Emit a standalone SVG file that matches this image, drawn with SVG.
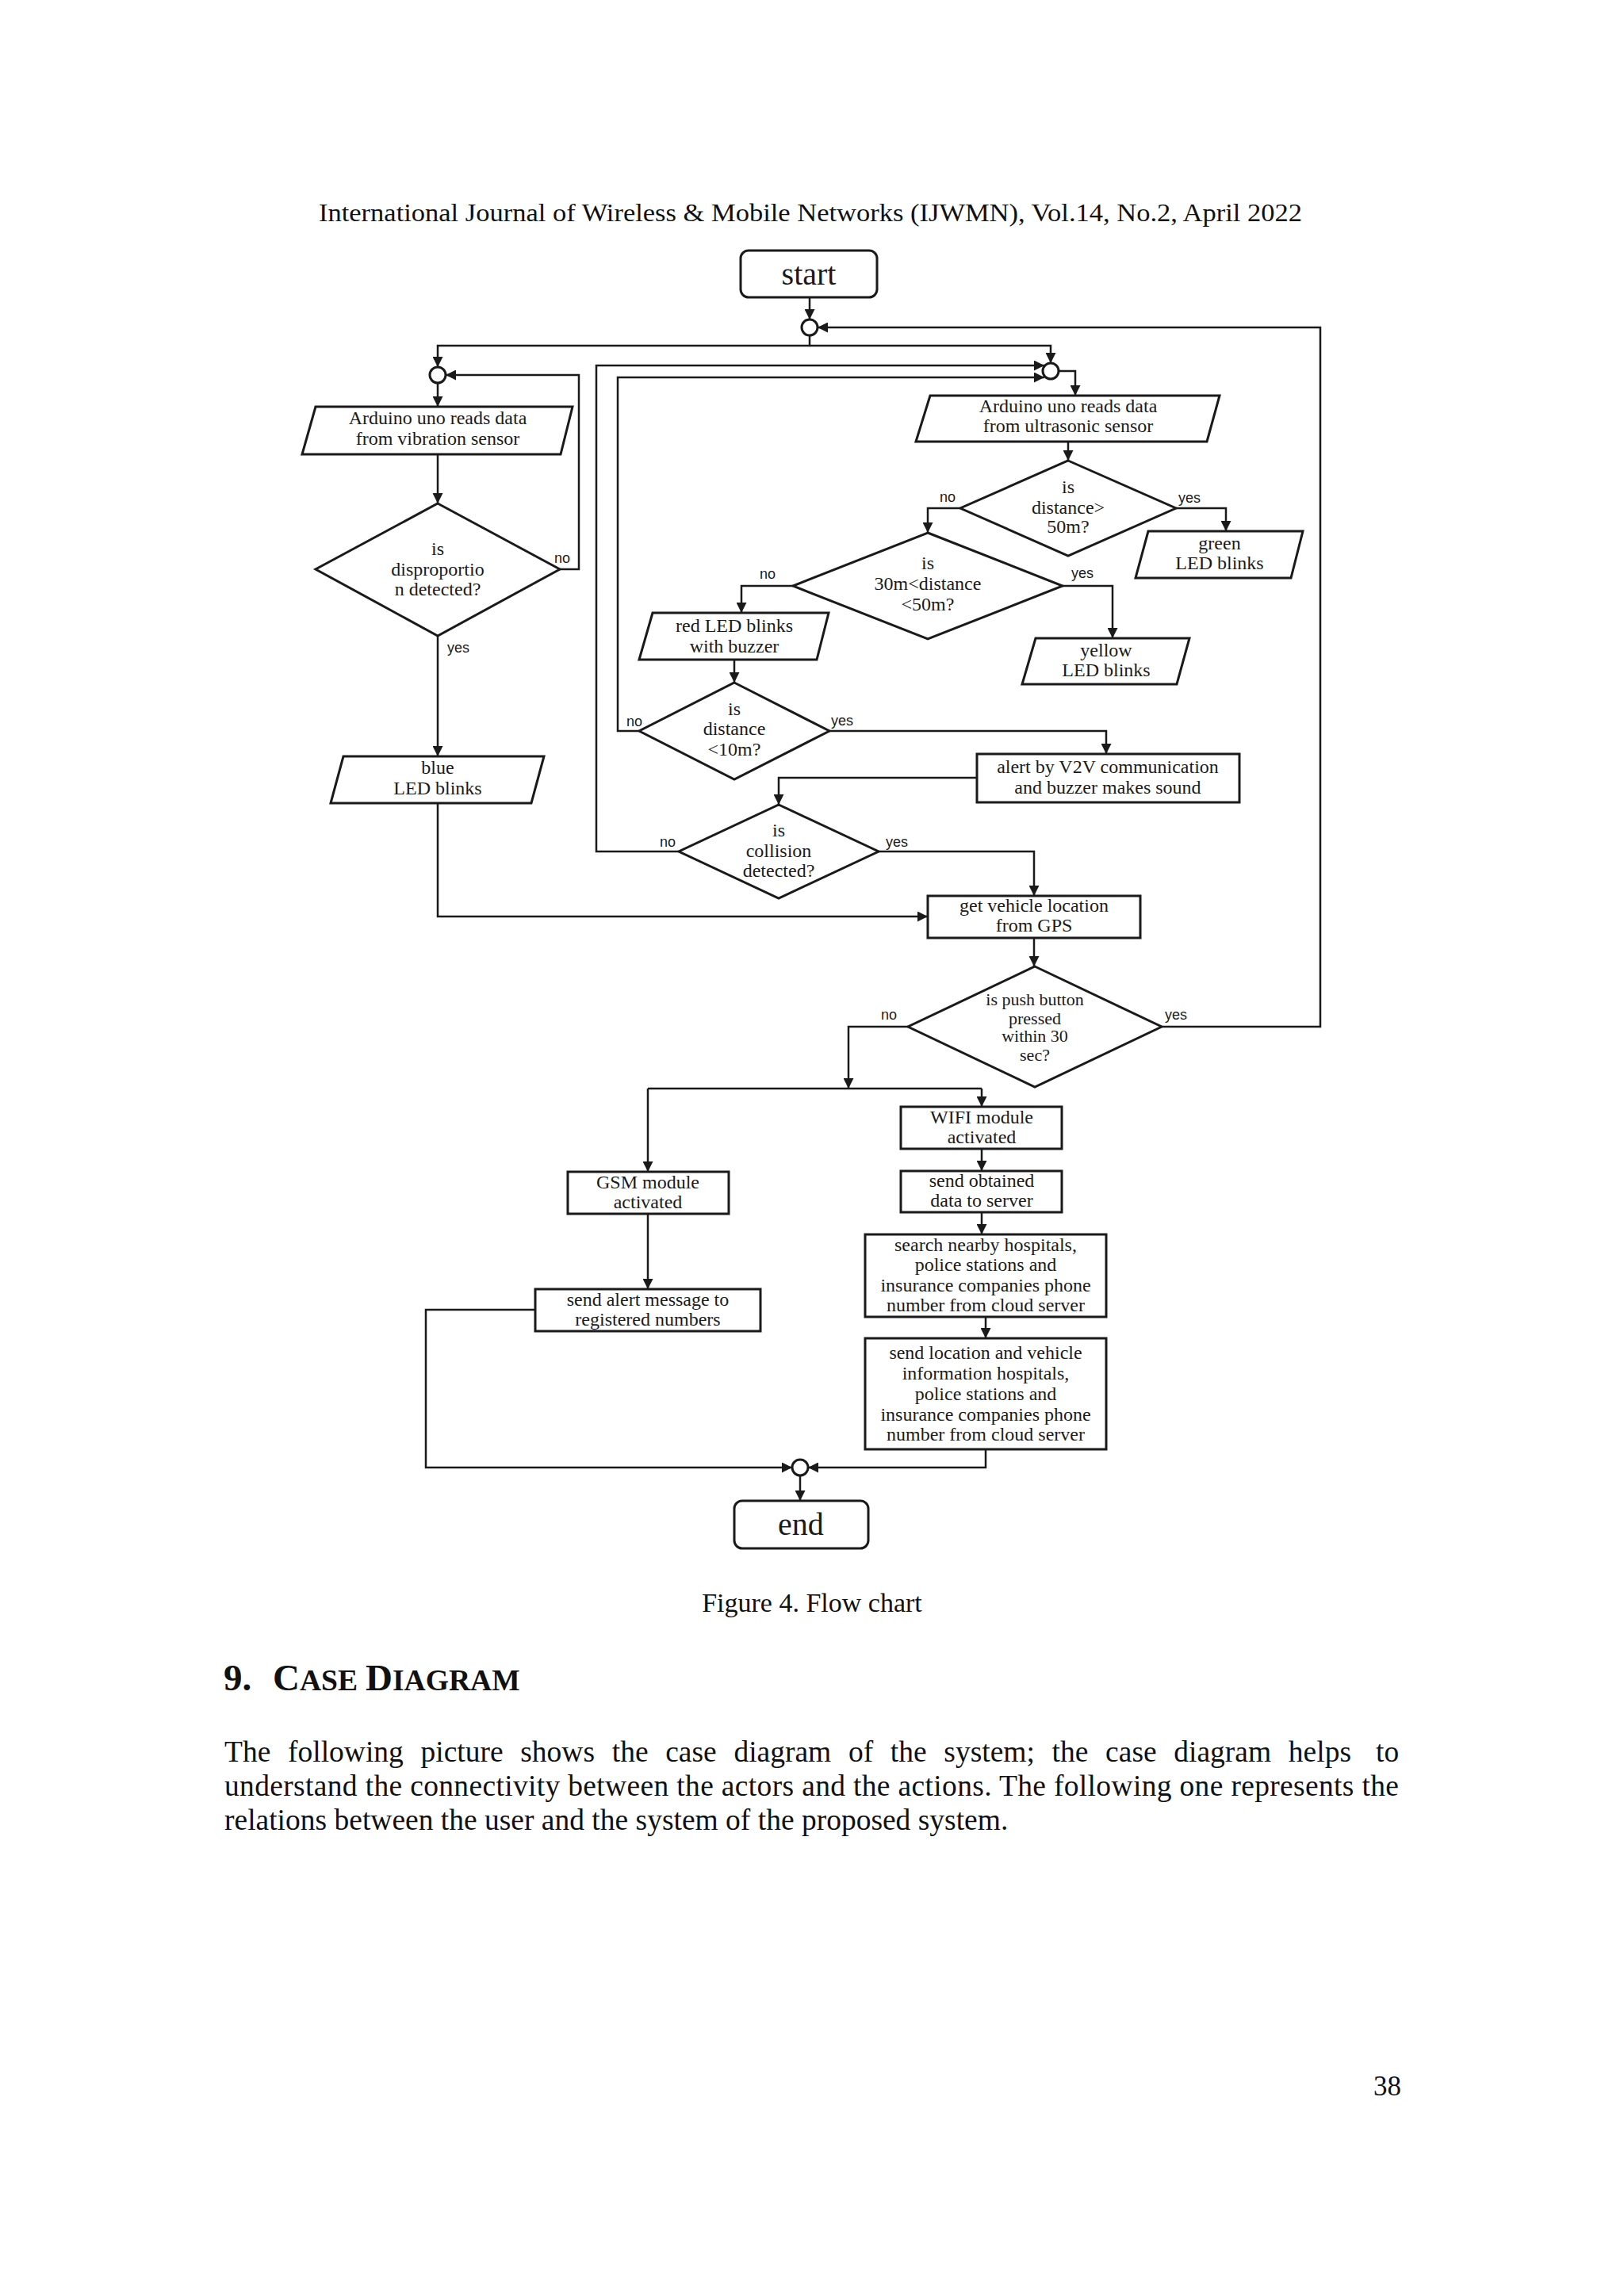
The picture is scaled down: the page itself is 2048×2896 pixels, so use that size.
<svg xmlns="http://www.w3.org/2000/svg" width="2048" height="2896" viewBox="0 0 2048 2896">
<style>
.bg{fill:#fff}
.ln{fill:none;stroke:#1a1a1a;stroke-width:2.5}
.ar{marker-end:url(#ah)}
.sh{fill:#fff;stroke:#1a1a1a;stroke-width:3}
.t{font-family:"Liberation Serif","Times New Roman",serif;font-size:24px;fill:#1a1a1a;text-anchor:middle}
.ts{font-size:22px}
.tb{font-size:40px}
.lb{font-family:"Liberation Sans",Arial,sans-serif;font-size:18px;fill:#1a1a1a;text-anchor:middle}
.pg{font-family:"Liberation Serif","Times New Roman",serif;fill:#111}
</style>
<defs>
<marker id="ah" viewBox="0 0 10 10" refX="10" refY="5" markerUnits="userSpaceOnUse" markerWidth="15" markerHeight="13" orient="auto">
<path d="M0,0 L10,5 L0,10 z" fill="#1a1a1a"/>
</marker>
</defs>
<rect class="bg" x="0" y="0" width="2048" height="2896"/>

<text class="pg" x="402" y="279" font-size="32" textLength="1240" lengthAdjust="spacingAndGlyphs">International Journal of Wireless &amp; Mobile Networks (IJWMN), Vol.14, No.2, April 2022</text>

<g id="connectors">
<path class="ln ar" d="M1021,375 V403"/>
<path class="ln ar" d="M1465,1295 H1665 V413 H1031"/>
<path class="ln ar" d="M1021,423 V436 H552 V463"/>
<path class="ln ar" d="M1021,436 H1325 V458"/>
<path class="ln ar" d="M706,718 H730 V473 H562"/>
<path class="ln ar" d="M552,483 V513"/>
<path class="ln ar" d="M552,573 V635"/>
<path class="ln ar" d="M552,802 V954"/>
<path class="ln ar" d="M552,1013 V1156 H1170"/>
<path class="ln ar" d="M1335,468 H1356 V499"/>
<path class="ln ar" d="M1347,557 V581"/>
<path class="ln ar" d="M1483,641 H1546 V670"/>
<path class="ln ar" d="M1211,641 H1170 V672"/>
<path class="ln ar" d="M1340,739 H1403 V805"/>
<path class="ln ar" d="M1000,739 H935 V773"/>
<path class="ln ar" d="M926,832 V861"/>
<path class="ln ar" d="M806,922 H779 V476 H1317"/>
<path class="ln ar" d="M1046,922 H1395 V951"/>
<path class="ln ar" d="M1232,981 H982 V1015"/>
<path class="ln ar" d="M856,1074 H752 V461 H1317"/>
<path class="ln ar" d="M1108,1074 H1304 V1130"/>
<path class="ln ar" d="M1304,1182 V1219"/>
<path class="ln ar" d="M1145,1295 H1070 V1373"/>
<path class="ln" d="M817,1373 H1238"/>
<path class="ln ar" d="M817,1373 V1478"/>
<path class="ln ar" d="M1238,1373 V1396"/>
<path class="ln ar" d="M1238,1449 V1477"/>
<path class="ln ar" d="M1238,1528 V1557"/>
<path class="ln ar" d="M1243,1661 V1688"/>
<path class="ln ar" d="M1243,1828 V1851 H1019"/>
<path class="ln ar" d="M817,1531 V1626"/>
<path class="ln ar" d="M675,1652 H537 V1851 H999"/>
<path class="ln ar" d="M1009,1861 V1893"/>
<text class="lb" x="709" y="710">no</text>
<text class="lb" x="578" y="823">yes</text>
<text class="lb" x="1195" y="633">no</text>
<text class="lb" x="1500" y="634">yes</text>
<text class="lb" x="968" y="730">no</text>
<text class="lb" x="1365" y="729">yes</text>
<text class="lb" x="800" y="916">no</text>
<text class="lb" x="1062" y="915">yes</text>
<text class="lb" x="842" y="1068">no</text>
<text class="lb" x="1131" y="1068">yes</text>
<text class="lb" x="1121" y="1286">no</text>
<text class="lb" x="1483" y="1286">yes</text>
</g>

<g id="start"><rect class="sh" x="934" y="316" width="172" height="59" rx="10"/><text class="t tb" x="1020" y="359">start</text></g>
<g id="junction1"><circle class="sh" cx="1021" cy="413" r="10"/></g>
<g id="junction2"><circle class="sh" cx="552" cy="473" r="10"/></g>
<g id="junction3"><circle class="sh" cx="1325" cy="468" r="10"/></g>

<g id="vibration"><polygon class="sh" points="398,513 722,513 707,573 381,573"/><text class="t" x="552" y="535">Arduino uno reads data</text><text class="t" x="552" y="561">from vibration sensor</text></g>
<g id="disproportion"><polygon class="sh" points="552,635 706,718 552,802 398,718"/><text class="t" x="552" y="700">is</text><text class="t" x="552" y="726">disproportio</text><text class="t" x="552" y="751">n detected?</text></g>
<g id="blue"><polygon class="sh" points="433,954 686,954 670,1013 417,1013"/><text class="t" x="552" y="976">blue</text><text class="t" x="552" y="1002">LED blinks</text></g>

<g id="ultrasonic"><polygon class="sh" points="1173,499 1538,499 1522,557 1155,557"/><text class="t" x="1347" y="520">Arduino uno reads data</text><text class="t" x="1347" y="545">from ultrasonic sensor</text></g>
<g id="dist50"><polygon class="sh" points="1347,581 1483,641 1347,701 1211,641"/><text class="t" x="1347" y="622">is</text><text class="t" x="1347" y="648">distance&gt;</text><text class="t" x="1347" y="672">50m?</text></g>
<g id="green"><polygon class="sh" points="1448,670 1643,670 1628,729 1432,729"/><text class="t" x="1538" y="693">green</text><text class="t" x="1538" y="718">LED blinks</text></g>
<g id="dist30"><polygon class="sh" points="1170,672 1340,739 1170,806 1000,739"/><text class="t" x="1170" y="718">is</text><text class="t" x="1170" y="744">30m&lt;distance</text><text class="t" x="1170" y="770">&lt;50m?</text></g>
<g id="yellow"><polygon class="sh" points="1306,805 1500,805 1484,863 1289,863"/><text class="t" x="1395" y="828">yellow</text><text class="t" x="1395" y="853">LED blinks</text></g>
<g id="red"><polygon class="sh" points="823,773 1045,773 1030,832 806,832"/><text class="t" x="926" y="797">red LED blinks</text><text class="t" x="926" y="823">with buzzer</text></g>
<g id="dist10"><polygon class="sh" points="926,861 1046,922 926,983 806,922"/><text class="t" x="926" y="902">is</text><text class="t" x="926" y="927">distance</text><text class="t" x="926" y="953">&lt;10m?</text></g>
<g id="v2v"><rect class="sh" x="1232" y="951" width="331" height="61"/><text class="t" x="1397" y="975">alert by V2V communication</text><text class="t" x="1397" y="1001">and buzzer makes sound</text></g>
<g id="collision"><polygon class="sh" points="982,1015 1108,1074 982,1133 856,1074"/><text class="t" x="982" y="1055">is</text><text class="t" x="982" y="1081">collision</text><text class="t" x="982" y="1106">detected?</text></g>
<g id="gps"><rect class="sh" x="1170" y="1130" width="268" height="53"/><text class="t" x="1304" y="1150">get vehicle location</text><text class="t" x="1304" y="1175">from GPS</text></g>
<g id="pushbutton"><polygon class="sh" points="1305,1219 1465,1295 1305,1371 1145,1295"/><text class="t ts" x="1305" y="1268">is push button</text><text class="t ts" x="1305" y="1292">pressed</text><text class="t ts" x="1305" y="1314">within 30</text><text class="t ts" x="1305" y="1338">sec?</text></g>
<g id="wifi"><rect class="sh" x="1136" y="1396" width="203" height="53"/><text class="t" x="1238" y="1417">WIFI module</text><text class="t" x="1238" y="1442">activated</text></g>
<g id="sendserver"><rect class="sh" x="1136" y="1477" width="203" height="52"/><text class="t" x="1238" y="1497">send obtained</text><text class="t" x="1238" y="1522">data to server</text></g>
<g id="search"><rect class="sh" x="1091" y="1557" width="304" height="104"/><text class="t" x="1243" y="1578">search nearby hospitals,</text><text class="t" x="1243" y="1603">police stations and</text><text class="t" x="1243" y="1629">insurance companies phone</text><text class="t" x="1243" y="1654">number from cloud server</text></g>
<g id="sendlocation"><rect class="sh" x="1091" y="1688" width="304" height="140"/><text class="t" x="1243" y="1714">send location and vehicle</text><text class="t" x="1243" y="1740">information hospitals,</text><text class="t" x="1243" y="1766">police stations and</text><text class="t" x="1243" y="1792">insurance companies phone</text><text class="t" x="1243" y="1817">number from cloud server</text></g>
<g id="gsm"><rect class="sh" x="716" y="1478" width="203" height="53"/><text class="t" x="817" y="1499">GSM module</text><text class="t" x="817" y="1524">activated</text></g>
<g id="alert"><rect class="sh" x="675" y="1626" width="284" height="53"/><text class="t" x="817" y="1647">send alert message to</text><text class="t" x="817" y="1672">registered numbers</text></g>
<g id="junction4"><circle class="sh" cx="1009" cy="1851" r="10"/></g>
<g id="end"><rect class="sh" x="926" y="1893" width="169" height="60" rx="10"/><text class="t tb" x="1010" y="1936">end</text></g>

<text class="pg" x="1024" y="2033" font-size="34" text-anchor="middle">Figure 4. Flow chart</text>
<text class="pg" x="282" y="2132" font-size="47" font-weight="bold">9.<tspan x="344">C</tspan><tspan font-size="37.6">ASE</tspan><tspan x="461">D</tspan><tspan font-size="37.6">IAGRAM</tspan></text>
<text class="pg" x="283" y="2222" font-size="37.5" word-spacing="12.3">The following picture shows the case diagram of the system; the case diagram helps<tspan x="1735" word-spacing="0">to</tspan></text>
<text class="pg" x="283" y="2265" font-size="37.5" textLength="1481" lengthAdjust="spacing">understand the connectivity between the actors and the actions. The following one represents the</text>
<text class="pg" x="283" y="2308" font-size="37.5">relations between the user and the system of the proposed system.</text>
<text class="pg" x="1732" y="2643" font-size="35">38</text>
</svg>
